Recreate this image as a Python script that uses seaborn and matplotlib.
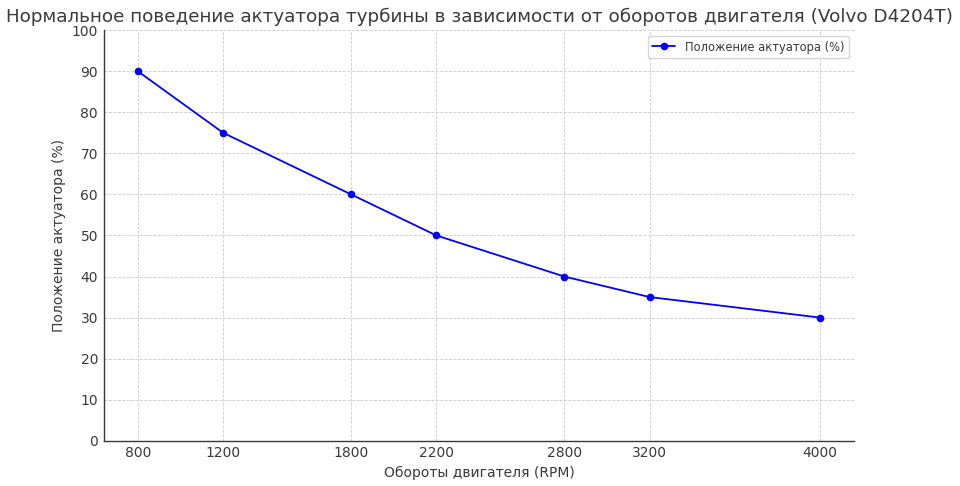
import matplotlib
matplotlib.use("Agg")
import matplotlib.pyplot as plt
import pandas as pd
import seaborn as sns

RPM = [800, 1200, 1800, 2200, 2800, 3200, 4000]
ACTUATOR_POS = [90, 75, 60, 50, 40, 35, 30]

TITLE = "Нормальное поведение актуатора турбины в зависимости от оборотов двигателя (Volvo D4204T)"
X_LABEL = "Обороты двигателя (RPM)"
Y_LABEL = "Положение актуатора (%)"
SERIES_NAME = "Положение актуатора (%)"

TEXT_COLOR = "#3a3a3a"

sns.set_style("white")
plt.rcParams["font.family"] = ["DejaVu Sans"]
plt.rcParams["text.color"] = TEXT_COLOR
plt.rcParams["axes.labelcolor"] = TEXT_COLOR
plt.rcParams["xtick.color"] = TEXT_COLOR
plt.rcParams["ytick.color"] = TEXT_COLOR

df = pd.DataFrame({"rpm": RPM, "pos": ACTUATOR_POS})

fig = plt.figure(figsize=(9.6, 4.86), dpi=100)
ax = fig.add_axes([0.108, 0.093, 0.782, 0.845])

sns.lineplot(data=df, x="rpm", y="pos", ax=ax, color="blue", marker="o",
             markersize=5.5, markeredgewidth=0, linewidth=1.3, label=SERIES_NAME)

ax.set_xticks(RPM)
ax.set_ylim(0, 100)
ax.set_yticks(range(0, 101, 10))
ax.tick_params(axis="both", length=0, labelsize=10, pad=4)
ax.grid(True, linestyle="--", linewidth=0.6, color="#cccccc")
for side in ["top", "right"]:
    ax.spines[side].set_visible(False)
for side in ["left", "bottom"]:
    ax.spines[side].set_color(TEXT_COLOR)
    ax.spines[side].set_linewidth(1.0)

ax.set_xlabel(X_LABEL, fontsize=10)
ax.set_ylabel(Y_LABEL, fontsize=10)
ax.set_title(TITLE, fontsize=13.2, pad=6)
ax.legend(loc="upper right", fontsize=8.3, frameon=True)

fig.savefig("out.png", dpi=100)
